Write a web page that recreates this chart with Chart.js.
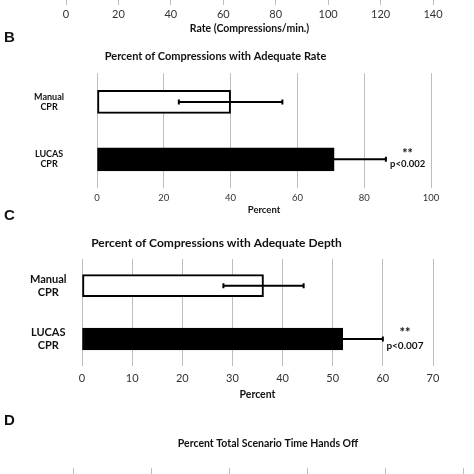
<!DOCTYPE html>
<html>
<head>
<meta charset="utf-8">
<script src="https://cdn.jsdelivr.net/npm/chart.js@4.4.0/dist/chart.umd.min.js"></script>
<style>
  body { margin: 0; width: 474px; height: 474px; overflow: hidden; background: #fff; position: relative; }
  canvas { position: absolute; left: 0; }
  .tag { position: absolute; left: 4px; font: bold 15px "Liberation Sans", Arial, sans-serif; color: #111; line-height: 17px; }
</style>
</head>
<body>
<canvas id="chartA" width="474" height="134" style="top:-99px"></canvas>
<div class="tag" style="top:28px">B</div>
<canvas id="chartB" width="474" height="171" style="top:45px"></canvas>
<div class="tag" style="top:206px">C</div>
<canvas id="chartC" width="474" height="173" style="top:228px"></canvas>
<div class="tag" style="top:411px">D</div>
<canvas id="chartD" width="486" height="260" style="top:410px"></canvas>

<script>
// panel A (only its axis is in view)
const rateAxis = [0, 140, 20];

// panel B
const categories = [['Manual', 'CPR'], ['LUCAS', 'CPR']];
const rateValues = [40, 71];
const rateErrors = [15.5, 15.5];
const rateSig = ['', 'p<0.002'];
const rateTicks = [0, 100, 20];

// panel C
const depthValues = [36.2, 52];
const depthErrors = [8, 8];
const depthSig = ['', 'p<0.007'];
const depthTicks = [0, 70, 10];

// panel D (only the title and top of the grid are in view)
const handsOffTicks = [0, 50, 10];

const FONT = 'Lato';
const GRID = '#bdbdbd';
Chart.defaults.font.family = FONT;
Chart.defaults.animation = false;

// error bars + significance text, placed with the chart's own scales
const errorBars = {
  id: 'errorBars',
  afterDatasetsDraw(chart, args, opts) {
    if (!opts.errors) return;
    const ctx = chart.ctx;
    const x = chart.scales.x, y = chart.scales.y;
    const vals = chart.data.datasets[0].data;
    ctx.save();
    ctx.strokeStyle = '#000';
    ctx.lineWidth = 2;
    opts.errors.forEach((e, i) => {
      const cy = y.getPixelForValue(i);
      const x0 = x.getPixelForValue(vals[i] - e);
      const x1 = x.getPixelForValue(vals[i] + e);
      ctx.beginPath();
      ctx.moveTo(x0, cy); ctx.lineTo(x1, cy);
      ctx.moveTo(x0, cy - 2.5); ctx.lineTo(x0, cy + 2.5);
      ctx.moveTo(x1, cy - 2.5); ctx.lineTo(x1, cy + 2.5);
      ctx.stroke();
      if (opts.sig[i]) {
        const sx = x.getPixelForValue(opts.sigAt);
        ctx.fillStyle = '#111';
        ctx.textAlign = 'center';
        ctx.textBaseline = 'middle';
        ctx.font = 'bold ' + (opts.sigSize + 3) + 'px ' + FONT;
        ctx.fillText('**', sx, cy - opts.sigGap + 1);
        ctx.font = 'bold ' + opts.sigSize + 'px ' + FONT;
        ctx.fillText(opts.sig[i], sx, cy + opts.sigGap - 1);
      }
    });
    ctx.restore();
  }
};

function axisOnly(id, range, title, o) {
  return new Chart(document.getElementById(id), {
    type: 'bar',
    data: { labels: [], datasets: [] },
    options: {
      responsive: false,
      devicePixelRatio: 1,
      layout: { padding: o.pad },
      plugins: {
        legend: { display: false },
        tooltip: { enabled: false },
        title: title ? { display: true, text: title, color: '#111', font: { size: 10.5, weight: 'bold' }, padding: o.titlePad } : { display: false }
      },
      scales: {
        x: {
          type: 'linear', min: range[0], max: range[1], offset: false,
          ticks: { stepSize: range[2], color: '#333', font: { size: 11 }, padding: 3 },
          grid: { color: GRID, drawTicks: false, offset: false },
          border: { display: false },
          title: o.axisTitle ? { display: true, text: o.axisTitle, color: '#111', font: { size: 10.5, weight: 'bold' }, padding: { top: -1.5, bottom: 0 } } : { display: false }
        },
        y: { type: 'linear', display: false, min: 0, max: 1 }
      }
    }
  });
}

function barPanel(id, values, errors, sig, range, o) {
  return new Chart(document.getElementById(id), {
    type: 'bar',
    data: {
      labels: categories,
      datasets: [{
        data: values,
        backgroundColor: ['#ffffff', '#000000'],
        borderColor: '#000',
        borderWidth: 2,
        borderSkipped: false,
        barThickness: o.barH
      }]
    },
    options: {
      indexAxis: 'y',
      responsive: false,
      devicePixelRatio: 1,
      layout: { padding: { top: 0, right: o.padRight, bottom: 0, left: 0 } },
      plugins: {
        legend: { display: false },
        tooltip: { enabled: false },
        title: { display: true, text: o.title, color: '#111', font: { size: o.titleSize, weight: 'bold' }, padding: o.titlePad },
        errorBars: { errors: errors, sig: sig, sigAt: o.sigAt, sigSize: o.sigSize, sigGap: o.sigGap }
      },
      scales: {
        x: {
          min: range[0], max: range[1],
          ticks: { stepSize: range[2], color: '#333', font: { size: o.tickSize }, padding: o.tickPad },
          grid: { color: GRID, drawTicks: false },
          border: { display: false },
          title: { display: true, text: 'Percent', color: '#111', font: { size: o.axisTitleSize, weight: 'bold' }, padding: { top: o.axisTitlePad, bottom: 0 } }
        },
        y: {
          grid: { display: false, drawTicks: false },
          border: { display: false },
          ticks: { color: '#111', font: { size: o.catSize, weight: 'bold', lineHeight: o.catLine }, crossAlign: 'center', padding: o.catPad },
          afterFit(s) { s.width = o.axisW; s.paddingTop = 0; s.paddingBottom = 0; }
        }
      }
    },
    plugins: [errorBars]
  });
}

axisOnly('chartA', rateAxis, null, {
  pad: { top: 0, right: 41, bottom: 0, left: 66 },
  axisTitle: 'Rate (Compressions/min.)'
});

barPanel('chartB', rateValues, rateErrors, rateSig, rateTicks, {
  title: 'Percent of Compressions with Adequate Rate', titleSize: 11, titlePad: { top: 5, bottom: 10 },
  padRight: 43, axisW: 97, barH: 23,
  tickSize: 9.5, tickPad: 4.3, axisTitleSize: 9.5, axisTitlePad: -3.4,
  catSize: 9, catLine: 1.1, catPad: 33,
  sigAt: 93, sigSize: 9.5, sigGap: 6
});

barPanel('chartC', depthValues, depthErrors, depthSig, depthTicks, {
  title: 'Percent of Compressions with Adequate Depth', titleSize: 12, titlePad: { top: 8, bottom: 8.6 },
  padRight: 41, axisW: 82, barH: 22,
  tickSize: 11, tickPad: 6.4, axisTitleSize: 10.5, axisTitlePad: -3.3,
  catSize: 11, catLine: 1.2, catPad: 15.5,
  sigAt: 64.4, sigSize: 10, sigGap: 7.5
});

axisOnly('chartD', handsOffTicks, 'Percent Total Scenario Time Hands Off', {
  pad: { top: 0, right: 23, bottom: 0, left: 73 },
  titlePad: { top: 27.7, bottom: 17.7 }
});
</script>
</body>
</html>
